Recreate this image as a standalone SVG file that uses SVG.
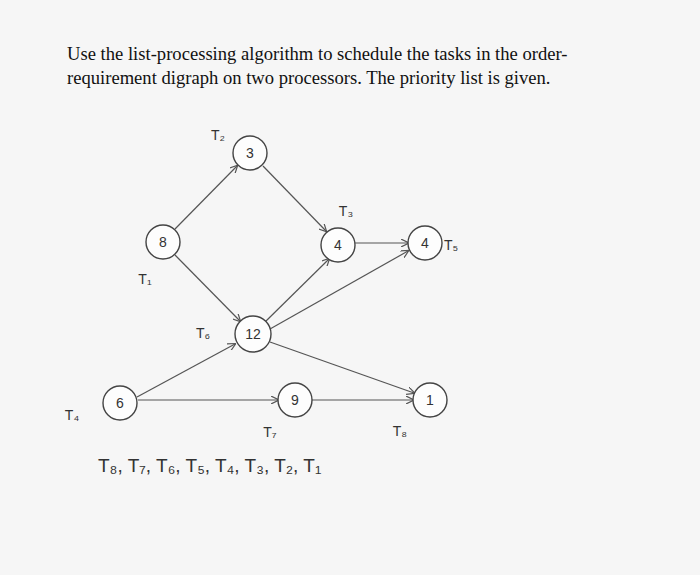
<svg xmlns="http://www.w3.org/2000/svg" width="700" height="575" viewBox="0 0 700 575">
<style>
.q{font-family:"Liberation Serif",serif;font-size:18.6px;fill:#111}
.n circle{fill:#fdfdfd;stroke:#444;stroke-width:1.4}
.n text{font-family:"Liberation Sans",sans-serif;font-size:14px;fill:#333;text-anchor:middle}
.lb{font-family:"Liberation Sans",sans-serif;font-size:16px;fill:#333}
#edges line{stroke:#555;stroke-width:1.2;marker-end:url(#a)}
</style>
<defs><marker id="a" markerWidth="8" markerHeight="8" refX="7" refY="4" orient="auto" markerUnits="userSpaceOnUse"><path d="M0,0L8,4L0,8" fill="none" stroke="#555" stroke-width="1.2"/></marker></defs>
<rect width="700" height="575" fill="#f6f6f6"/>
<text class="q" x="67" y="60">Use the list-processing algorithm to schedule the tasks in the order-</text>
<text class="q" x="67" y="84">requirement digraph on two processors. The priority list is given.</text>
<g id="edges">
<line x1="175" y1="229" x2="237" y2="166"/>
<line x1="175" y1="255" x2="240" y2="321"/>
<line x1="263" y1="166" x2="326" y2="231"/>
<line x1="265" y1="322" x2="329" y2="259"/>
<line x1="270" y1="329" x2="408" y2="251"/>
<line x1="355" y1="243" x2="408" y2="243"/>
<line x1="270" y1="342" x2="414" y2="393"/>
<line x1="137" y1="397" x2="235" y2="344"/>
<line x1="138" y1="400" x2="278" y2="400"/>
<line x1="312" y1="400" x2="413" y2="400"/>
</g>
<g id="T1" class="n"><circle cx="163" cy="242" r="17"/><text x="163" y="247">8</text><text class="lb" x="145" y="284" text-anchor="start">T₁</text></g>
<g id="T2" class="n"><circle cx="250" cy="153" r="17"/><text x="250" y="158">3</text><text class="lb" x="218" y="140" text-anchor="start">T₂</text></g>
<g id="T3" class="n"><circle cx="338" cy="245" r="17"/><text x="338" y="250">4</text><text class="lb" x="346" y="216" text-anchor="start">T₃</text></g>
<g id="T5" class="n"><circle cx="425" cy="243" r="17"/><text x="425" y="248">4</text><text class="lb" x="451" y="250" text-anchor="start">T₅</text></g>
<g id="T6" class="n"><circle cx="253" cy="334" r="18"/><text x="253" y="339">12</text><text class="lb" x="203" y="338" text-anchor="start">T₆</text></g>
<g id="T4" class="n"><circle cx="120" cy="403" r="17"/><text x="120" y="408">6</text><text class="lb" x="72" y="420" text-anchor="start">T₄</text></g>
<g id="T7" class="n"><circle cx="295" cy="400" r="17"/><text x="295" y="405">9</text><text class="lb" x="270" y="437" text-anchor="start">T₇</text></g>
<g id="T8" class="n"><circle cx="430" cy="400" r="17"/><text x="430" y="405">1</text><text class="lb" x="400" y="436" text-anchor="start">T₈</text></g>
<text class="lb" x="98" y="472" style="font-size:19px">T₈, T₇, T₆, T₅, T₄, T₃, T₂, T₁</text>
</svg>
